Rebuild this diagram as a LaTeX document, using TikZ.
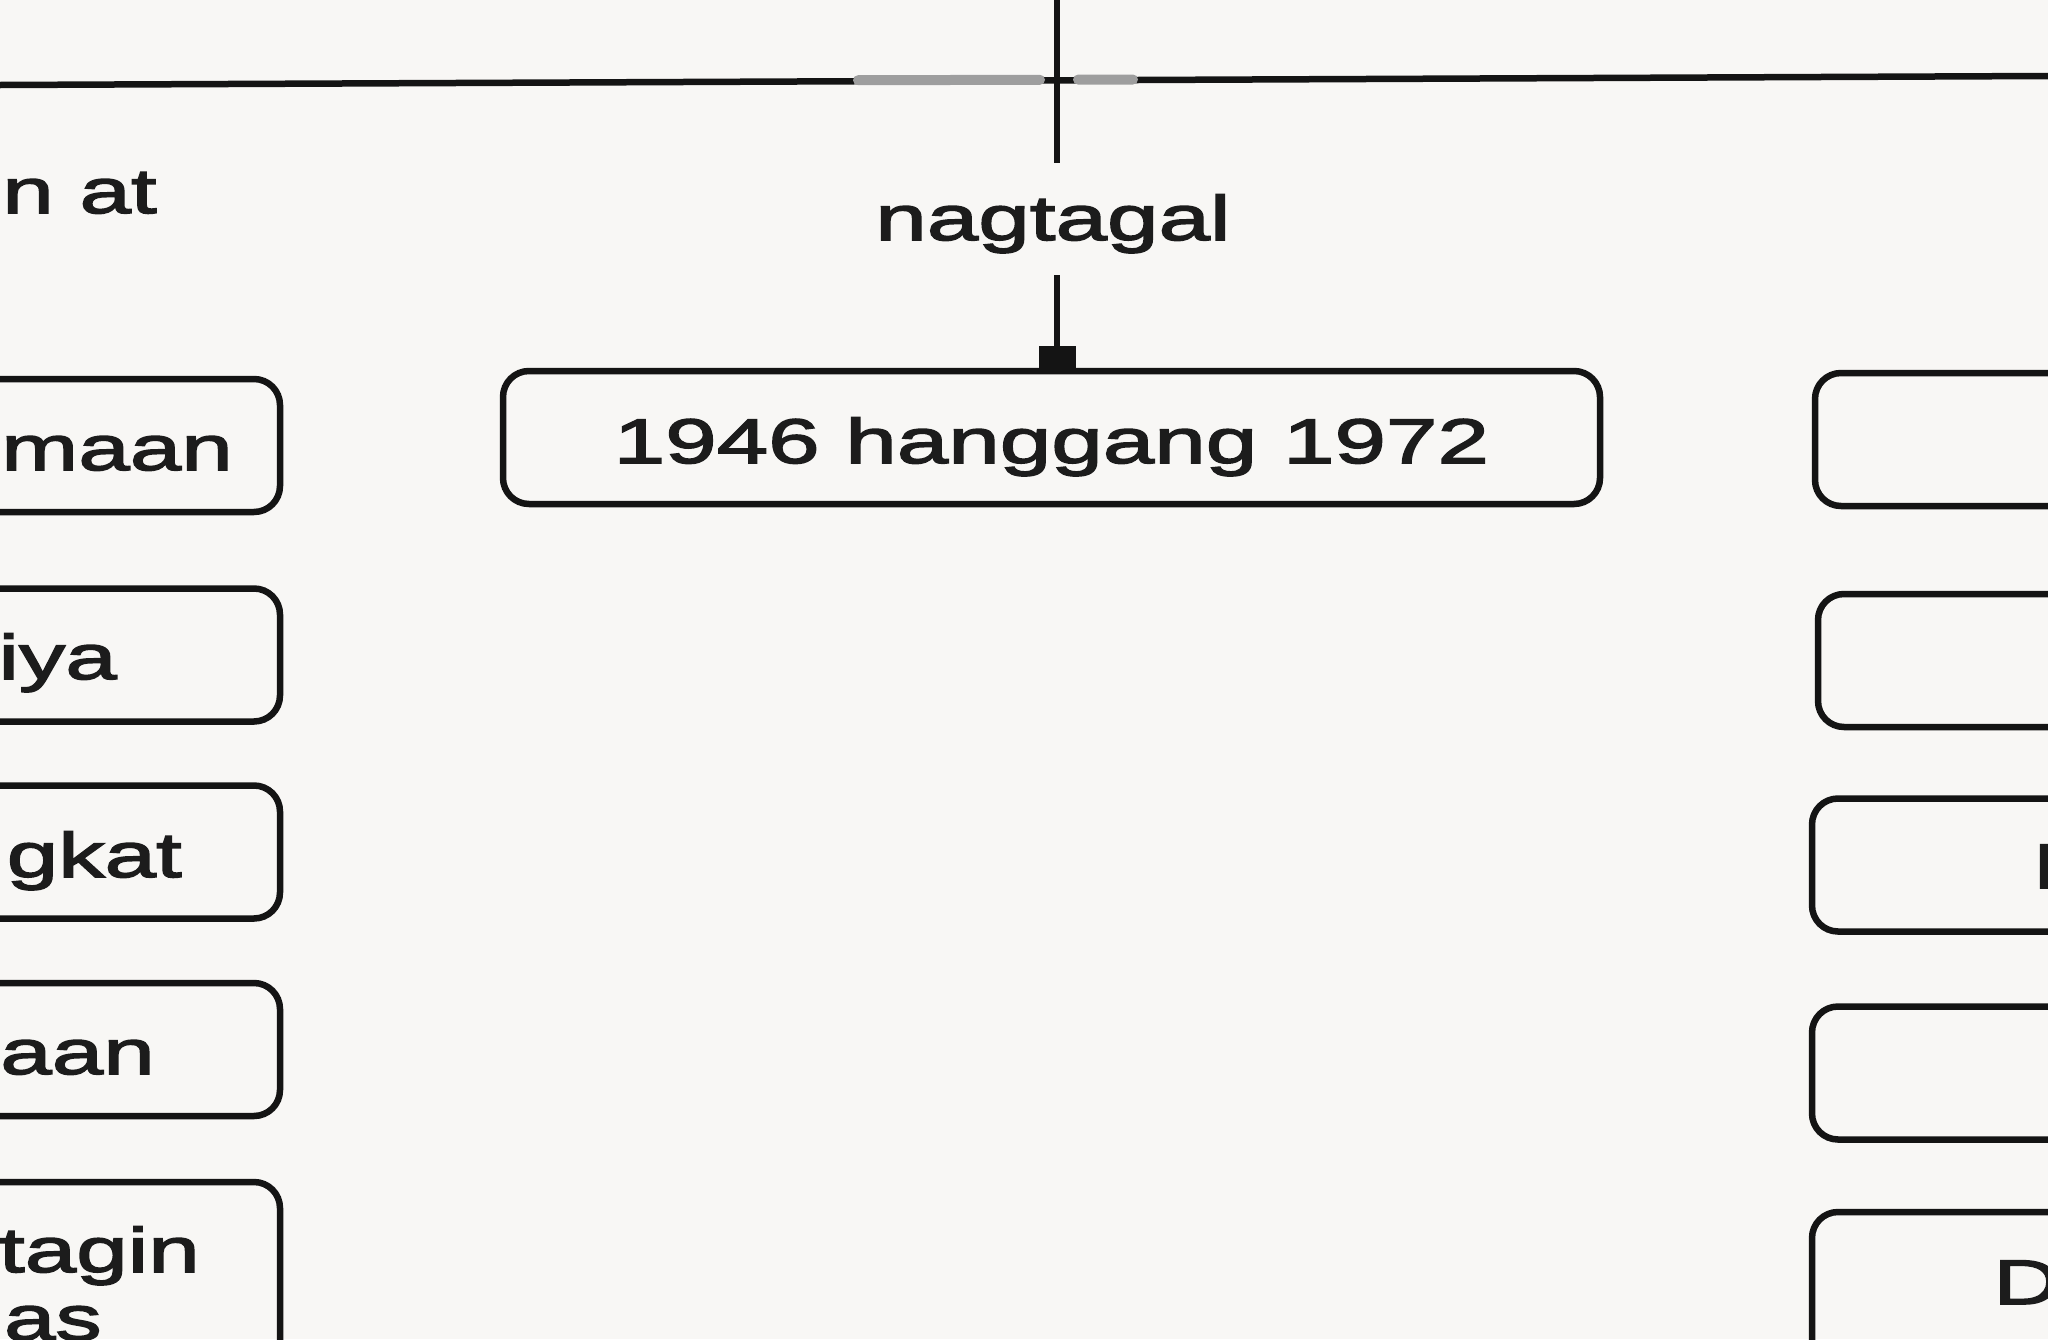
\documentclass[tikz,border=0pt]{standalone}
\usepackage{fontspec}
\setmainfont{Liberation Sans}[FakeStretch=1.47,FakeBold=2.5]
\usetikzlibrary{arrows.meta}
\definecolor{paper}{HTML}{F8F7F5}
\definecolor{ink}{HTML}{141414}
\definecolor{txt}{HTML}{1C1C1C}
\definecolor{smear}{HTML}{9E9E9E}
\begin{document}
\begin{tikzpicture}[x=1pt,y=-1pt,
  box/.style={draw=ink, line width=6.5pt, rounded corners=26pt, minimum height=133pt, inner sep=0pt},
  lbl/.style={text=txt, font=\fontsize{63}{69}\selectfont, inner sep=0pt},
  wire/.style={draw=ink, line width=6.5pt}]
\useasboundingbox (0,0) rectangle (2048,1339);
\fill[paper] (0,0) rectangle (2048,1339);
\clip (0,0) rectangle (2048,1339);

% top bus line
\coordinate (busL) at (0,85);
\coordinate (busR) at (2048,76);
\draw[wire] (busL) -- (busR);
\draw[smear, line width=10pt, line cap=round] (858,80.2) -- (1040,79.8);
\draw[smear, line width=10pt, line cap=round] (1078,79.6) -- (1133,79.5);

% central branch
\coordinate (top) at (1057,0);
\node[lbl, anchor=base] (nag) at (1053,240) {nagtagal};
\node[box, minimum width=1097pt, text height=51pt, text depth=0pt, lbl, draw=ink] (center) at (1051.5,437.5) {1946 hanggang 1972};
\draw[wire] (top) -- (top |- nag.north) [shorten >=31pt];
\draw[wire, -{Square[length=22pt,width=37pt]}, shorten <=22pt] (top |- nag.south) -- (top |- center.north);

% left column label
\node[lbl, anchor=base east] (lt) at (157,213) {n at};

% left column boxes
\node[box, minimum width=600pt] (l1) at (-20,445.5) {};
\node[box, minimum width=600pt] (l2) at (-20,655) {};
\node[box, minimum width=600pt] (l3) at (-20,852) {};
\node[box, minimum width=600pt] (l4) at (-20,1049.5) {};
\node[box, minimum width=600pt, minimum height=300pt] (l5) at (-20,1332) {};
\node[lbl, anchor=base east] (t1) at (233,470) {maan};
\node[lbl, anchor=base east] (t2) at (117,679) {iya};
\node[lbl, anchor=base east] (t3) at (182,877) {gkat};
\node[lbl, anchor=base east] (t4) at (155,1074) {aan};
\node[lbl, anchor=base east] (t5) at (200,1272) {tagin};
\node[lbl, anchor=base east] (t6) at (102,1340) {as};

% right column boxes
\node[box, minimum width=600pt] (r1) at (2115,439.5) {};
\node[box, minimum width=600pt] (r2) at (2118,660.5) {};
\node[box, minimum width=600pt] (r3) at (2112,865) {};
\node[box, minimum width=600pt] (r4) at (2112,1073) {};
\node[box, minimum width=600pt, minimum height=300pt] (r5) at (2112,1362) {};
\node[lbl, anchor=base west] (u3) at (2032,888) {I};
\node[lbl, anchor=base west] (u5) at (1993,1304) {D};
\end{tikzpicture}
\end{document}
